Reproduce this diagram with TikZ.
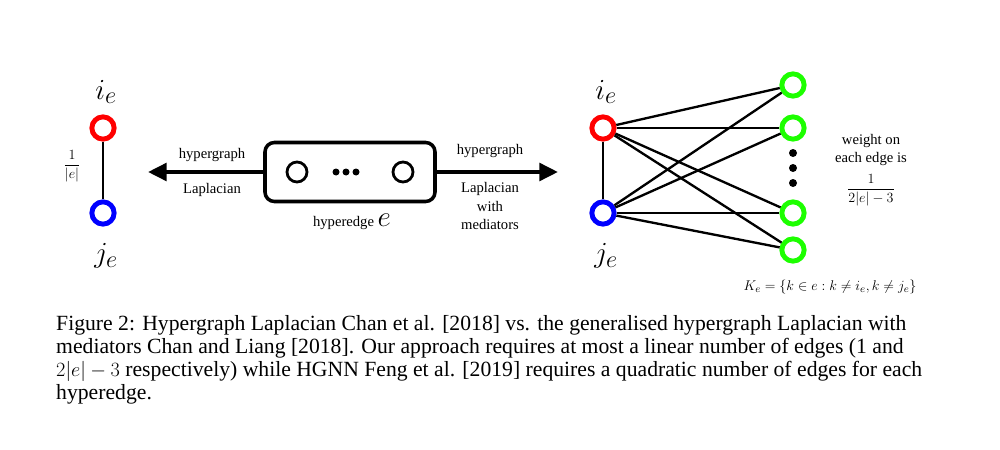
\documentclass[tikz,border=0pt]{standalone}
\usepackage{fontspec}
\setmainfont{Liberation Serif}
\usetikzlibrary{arrows.meta}
\begin{document}
\begin{tikzpicture}[x=0.03cm,y=-0.03cm,
  ring/.style={circle,draw=#1,line width=4.2pt,minimum size=19pt,inner sep=0},
  small/.style={font=\fontsize{12.5pt}{15.5pt}\selectfont,align=center},
  bigl/.style={font=\fontsize{32pt}{34pt}\selectfont},
  edge/.style={line width=2pt},
  arr/.style={line width=3.5pt,-{Triangle[length=16pt,width=15pt]}},
  capline/.style={anchor=base west,font=\fontsize{18.5pt}{20pt}\selectfont,inner sep=0}]
\useasboundingbox (0,0) rectangle (1000,450);
% left
\node[ring=red] (li) at (103,128) {};
\node[ring=blue] (lj) at (103,213) {};
\draw[edge] (li) -- (lj);
\node[bigl] (lil) at (106,92) {$i_e$};
\node[bigl] (ljl) at (106,256) {$j_e$};
\node[font=\fontsize{13pt}{14pt}\selectfont] (lw) at (72,166) {$\displaystyle\frac{1}{|e|}$};
% hyperedge
\node[draw,line width=3pt,rounded corners=8pt,minimum width=170*0.03cm,minimum height=59*0.03cm] (box) at (350,172) {};
\node[circle,draw,line width=2.4pt,minimum size=20*0.03cm,inner sep=0] (c1) at (297,172) {};
\node[circle,draw,line width=2.4pt,minimum size=20*0.03cm,inner sep=0] (c2) at (403,172) {};
\foreach \x/\n in {336/d1,346/d2,356/d3}{\node[circle,fill,inner sep=0,minimum size=7*0.03cm] (\n) at (\x,172) {};}
\node[small] (he) at (352,222) {hyperedge \fontsize{24pt}{24pt}\selectfont$e$};
\coordinate (la) at (148,172);
\coordinate (ra) at (558,172);
\draw[arr] (box.west) -- (la);
\draw[arr] (box.east) -- (ra);
\node[small] (t1) at (212,155) {hypergraph};
\node[small] (t2) at (212,190) {Laplacian};
\node[small] (t3) at (490,151) {hypergraph};
\node[small] (t4) at (490,206) {Laplacian\\with\\mediators};
% right
\node[ring=red] (ri) at (603,128) {};
\node[ring=blue] (rj) at (603,213) {};
\node[bigl] (ril) at (606,92) {$i_e$};
\node[bigl] (rjl) at (606,256) {$j_e$};
\node[ring=green!85!lime] (g1) at (793,85) {};
\node[ring=green!85!lime] (g2) at (793,128) {};
\node[ring=green!85!lime] (g3) at (793,213) {};
\node[ring=green!85!lime] (g4) at (793,250) {};
\foreach \y/\n in {153/e1,168/e2,183/e3}{\node[circle,fill,inner sep=0,minimum size=8*0.03cm] (\n) at (793,\y) {};}
\draw[edge] (ri) -- (rj);
\foreach \g in {g1,g2,g3,g4}{\draw[edge] (ri) -- (\g); \draw[edge] (rj) -- (\g);}
\node[small] (w) at (871,150) {weight on\\each edge is};
\node[font=\fontsize{12pt}{13pt}\selectfont] (wf) at (871,190) {$\displaystyle\frac{1}{2|e|-3}$};
\node[font=\fontsize{12.5pt}{13pt}\selectfont] (ke) at (830,287) {$K_e=\{k\in e: k\neq i_e, k\neq j_e\}$};
% caption
\node[capline] (l1) at (56,330) {Figure 2: Hypergraph Laplacian Chan et al. [2018] vs. the generalised hypergraph Laplacian with};
\node[capline] (l2) at (56,353) {mediators Chan and Liang [2018]. Our approach requires at most a linear number of edges (1 and};
\node[capline] (l3) at (56,376) {$2|e|-3$ respectively) while HGNN Feng et al. [2019] requires a quadratic number of edges for each};
\node[capline] (l4) at (56,399) {hyperedge.};
\end{tikzpicture}
\end{document}
